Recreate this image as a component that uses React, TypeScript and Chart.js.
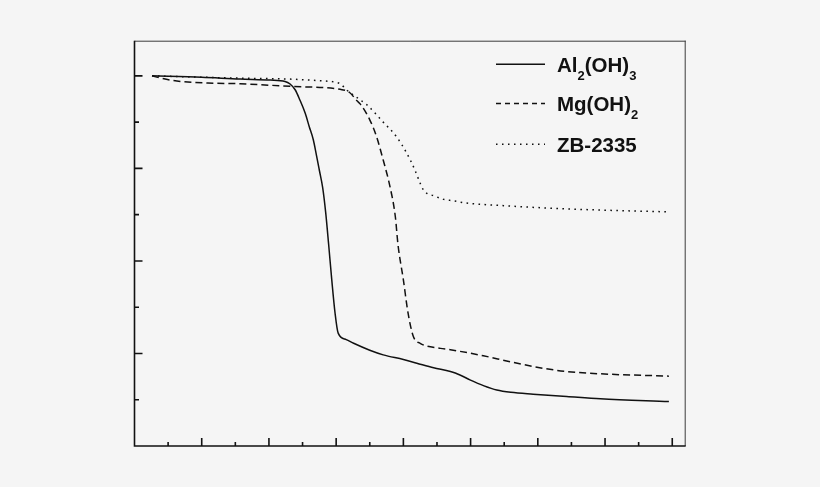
import React, { useEffect, useRef } from "react";
import { Chart, registerables } from "chart.js";

Chart.register(...registerables);

// Temperature (°C) and residual mass (%)
const alTemp = [26, 100, 157, 202, 224, 231, 239, 246, 254, 260, 266, 271, 275, 280, 284.4, 288.8, 293.4, 298.3, 303, 315, 326, 350, 370, 400, 420, 445, 470, 485, 499, 520, 539, 560, 593, 643, 693, 795];
const alMass = [100, 99.7, 99.3, 99.1, 98.8, 98.3, 97.0, 94.8, 91.9, 89.0, 86.2, 82.6, 79.6, 75.8, 70.5, 63.6, 56.0, 48.8, 44.4, 43.0, 42.2, 40.7, 39.7, 38.7, 37.9, 36.9, 36.1, 35.3, 34.3, 33.0, 32.1, 31.6, 31.2, 30.7, 30.2, 29.6];

const mgTemp = [26, 57, 122, 157, 236, 306, 320, 331, 336, 350, 360, 370, 380, 388, 392, 400, 407, 415, 425, 455, 470, 519, 559, 608, 643, 693, 795];
const mgMass = [100, 99.0, 98.4, 98.3, 97.7, 97.1, 96.4, 94.6, 93.9, 90.5, 86.9, 81.8, 76.1, 69.6, 63.5, 55.9, 48.7, 43.6, 42.2, 41.1, 40.8, 39.5, 38.2, 36.8, 36.1, 35.6, 35.1];

const zbTemp = [26, 157, 231, 270, 296, 306, 316, 336, 346, 370, 390, 405, 417, 425, 430, 435, 445, 460, 474, 494, 544, 618, 693, 795];
const zbMass = [100, 99.5, 99.3, 99.0, 98.7, 98.3, 96.9, 94.8, 93.7, 90.0, 86.8, 83.3, 79.7, 76.8, 75.3, 74.6, 74.1, 73.3, 73.0, 72.5, 72.0, 71.4, 71.0, 70.6];

const seriesNames = ["Al|2|(OH)|3", "Mg(OH)|2", "ZB-2335"];

const xMin = 0;
const xMax = 820;
const yMin = 20;
const yMax = 107.6;

const toPoints = (xs: number[], ys: number[]) => xs.map((x, i) => ({ x, y: ys[i] }));

const framePlugin = {
  id: "frameAndLegend",
  afterDraw(chart: any) {
    const ctx = chart.ctx as CanvasRenderingContext2D;
    const { left, right, top, bottom } = chart.chartArea;
    const xs = chart.scales.x;
    const ys = chart.scales.y;
    ctx.save();
    // frame
    ctx.strokeStyle = "#3a3a3a";
    ctx.lineWidth = 1;
    ctx.beginPath();
    ctx.moveTo(left, top + 0.5);
    ctx.lineTo(right, top + 0.5);
    ctx.moveTo(right - 0.5, top);
    ctx.lineTo(right - 0.5, bottom);
    ctx.stroke();
    ctx.strokeStyle = "#111";
    ctx.lineWidth = 1.6;
    ctx.beginPath();
    ctx.moveTo(left, top);
    ctx.lineTo(left, bottom);
    ctx.lineTo(right, bottom);
    ctx.stroke();
    // x ticks (inward)
    ctx.lineWidth = 1.6;
    ctx.beginPath();
    for (let v = 50; v <= 800; v += 50) {
      const px = xs.getPixelForValue(v);
      const len = v % 100 === 0 ? 8 : 4;
      ctx.moveTo(px, bottom);
      ctx.lineTo(px, bottom - len);
    }
    // y ticks (inward)
    for (let v = 30; v <= 100; v += 10) {
      const py = ys.getPixelForValue(v);
      const len = v % 20 === 0 ? 8 : 4.5;
      ctx.moveTo(left, py);
      ctx.lineTo(left + len, py);
    }
    ctx.stroke();

    // legend
    const dashes = [[], [5, 4], [1.5, 4.5]];
    const rowY = [64.3, 103.5, 144.3];
    const lineX0 = 496;
    const lineX1 = 545;
    const textX = 557;
    seriesNames.forEach((name, i) => {
      const y = rowY[i];
      ctx.strokeStyle = "#111";
      ctx.lineWidth = 1.4;
      ctx.setLineDash(dashes[i]);
      ctx.beginPath();
      ctx.moveTo(lineX0, y);
      ctx.lineTo(lineX1, y);
      ctx.stroke();
      ctx.setLineDash([]);
      const parts = name.split("|");
      let x = textX;
      const base = y + 7.5;
      ctx.fillStyle = "#111";
      ctx.textBaseline = "alphabetic";
      ctx.textAlign = "left";
      parts.forEach((p, j) => {
        const sub = j % 2 === 1;
        ctx.font = sub ? "bold 13px 'Liberation Sans', Arial, sans-serif" : "bold 20.5px 'Liberation Sans', Arial, sans-serif";
        ctx.fillText(p, x, sub ? base + 8 : base);
        x += ctx.measureText(p).width;
      });
    });
    ctx.restore();
  },
};

export default function App() {
  const ref = useRef<HTMLCanvasElement | null>(null);
  useEffect(() => {
    if (!ref.current) return;
    const common = {
      borderColor: "#111",
      borderWidth: 1.5,
      pointRadius: 0,
      fill: false,
      cubicInterpolationMode: "monotone" as const,
    };
    const chart = new Chart(ref.current, {
      type: "line",
      data: {
        datasets: [
          { ...common, label: "Al2(OH)3", data: toPoints(alTemp, alMass) },
          { ...common, label: "Mg(OH)2", data: toPoints(mgTemp, mgMass), borderDash: [7, 4] },
          { ...common, label: "ZB-2335", data: toPoints(zbTemp, zbMass), borderDash: [1.6, 4.4] },
        ],
      },
      options: {
        animation: false,
        responsive: false,
        devicePixelRatio: 1,
        layout: { padding: { left: 134.5, top: 40.7, right: 134.3, bottom: 41 } },
        plugins: { legend: { display: false }, tooltip: { enabled: false } },
        scales: {
          x: { type: "linear", min: xMin, max: xMax, display: false },
          y: { type: "linear", min: yMin, max: yMax, display: false },
        },
      },
      plugins: [framePlugin],
    });
    return () => chart.destroy();
  }, []);
  return (
    <div style={{ position: "absolute", left: 0, top: 0, width: 820, height: 487, background: "#f5f5f5" }}>
      <canvas ref={ref} width={820} height={487} style={{ width: 820, height: 487, display: "block" }} />
    </div>
  );
}
